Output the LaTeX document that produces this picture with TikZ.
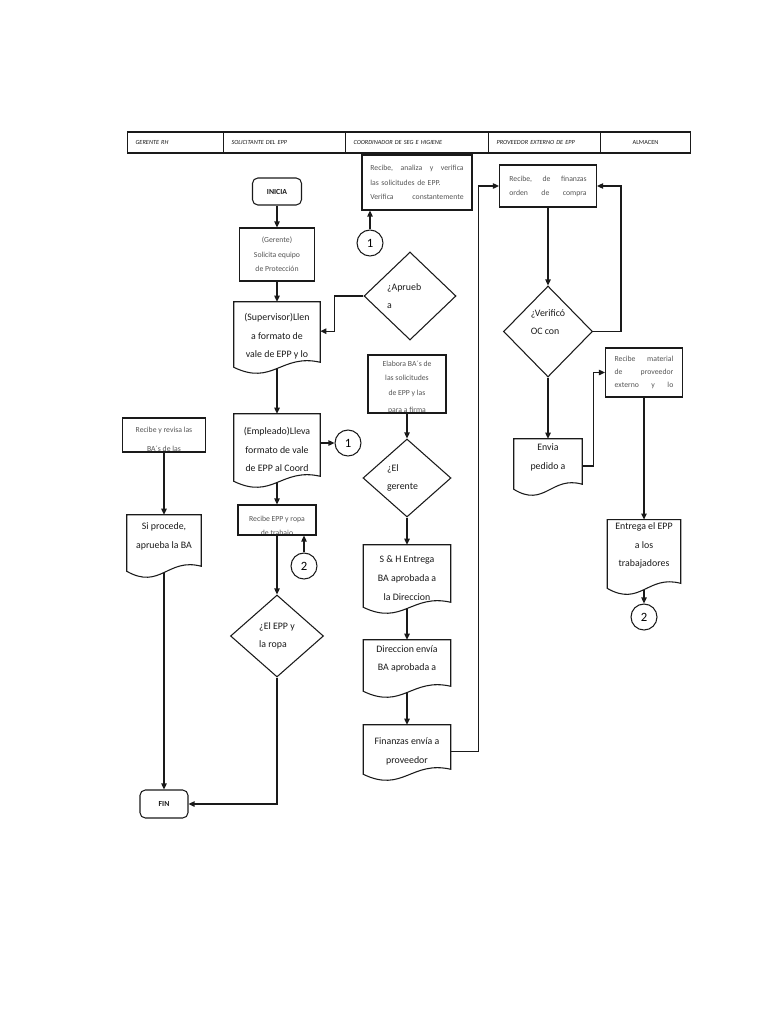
\documentclass[tikz,border=0pt]{standalone}
\usepackage{fontspec}
\setmainfont{Carlito}
\usetikzlibrary{arrows.meta,positioning,calc,shapes.geometric}
\definecolor{fcline}{HTML}{1A1A1A}
\definecolor{fcgrey}{HTML}{555555}
\tikzset{
  hdr/.style     = {rectangle, draw=fcline, line width=0.8pt, minimum height=15.75pt,
                    inner xsep=6pt, anchor=west, align=left, text=fcline,
                    font=\fontsize{4.7}{6}\selectfont\itshape},
  box/.style     = {rectangle, draw=fcline, line width=0.8pt, fill=white, align=center,
                    text=fcgrey, font=\fontsize{5.8}{11}\selectfont, inner sep=2pt},
  cliptxt/.style = {anchor=north, inner sep=0pt, align=center, text=fcgrey,
                    font=\fontsize{5.8}{11}\selectfont},
  docnode/.style = {rectangle, align=center, inner sep=2pt, text=fcline,
                    font=\fontsize{7.4}{14}\selectfont},
  term/.style    = {rectangle, rounded corners=4pt, draw=fcline, line width=0.8pt,
                    text=fcline, font=\fontsize{5.8}{7}\selectfont\bfseries},
  dec/.style     = {diamond, draw=fcline, line width=0.8pt, inner sep=0pt, align=left,
                    text=fcline, font=\fontsize{7.4}{14}\selectfont},
  conn/.style    = {circle, draw=fcline, line width=0.8pt, minimum size=19.5pt,
                    inner sep=0pt, font=\fontsize{9.5}{10}\selectfont},
  ed/.style      = {-{Triangle[length=4.5pt,width=4pt]}, draw=fcline, line width=1pt},
  fromdoc/.style = {shorten <=-2pt},
}
\newcommand{\docwave}[1]{%
  \draw[draw=fcline, line width=0.8pt] ($(#1.south west)+(0,-4)$) -- (#1.north west)
    -- (#1.north east) -- ($(#1.south east)+(0,-9)$)
    .. controls ($(#1.south west)!0.55!(#1.south east)+(0,-18)$)
    and ($(#1.south west)!0.45!(#1.south east)+(0,15)$) .. ($(#1.south west)+(0,-4)$) -- cycle;}

\begin{document}
\begin{tikzpicture}[x=0.75pt,y=-0.75pt]
  \useasboundingbox (0,0) rectangle (768,1024);
  \node[hdr, text width=60pt] (hgerente) at (127,142.5) {GERENTE RH};
  \node[hdr, text width=79.5pt] (hsolicit) at (223,142.5) {SOLICITANTE DEL EPP};
  \node[hdr, text width=95.25pt] (hcoord) at (345,142.5) {COORDINADOR DE SEG E HIGIENE};
  \node[hdr, text width=72pt] (hprov) at (488,142.5) {PROVEEDOR EXTERNO DE EPP};
  \node[hdr, text width=55.5pt, align=center, font=\fontsize{4.7}{6}\selectfont] (halmacen) at (600,142.5) {ALMACEN};

  \node[term, minimum width=36.75pt, minimum height=20.25pt] (inicia) at (277,191.5) {INICIA};
  \node[box, minimum width=56.25pt, minimum height=39.75pt] (gerente) at (277,254.5) {(Gerente)\\Solicita equipo\\de Protección};
  \node[docnode, minimum width=64.5pt, minimum height=51.75pt] (supervisor) at (277,336.5) {(Supervisor)Llen\\a formato de\\vale de EPP y lo};
  \node[docnode, minimum width=64.5pt, minimum height=53.25pt] (empleado) at (277,449.5) {(Empleado)Lleva\\formato de vale\\de EPP al Coord};
  \node[box, minimum width=58.5pt, minimum height=22.5pt,
        path picture={\node[cliptxt] at ($(path picture bounding box.north)+(0,6)$) {Recibe EPP y ropa\\de trabajo};}] (recibeepp) at (277,520) {};
  \node[dec, minimum width=69.75pt, minimum height=61.5pt] (eppdiamond) at (277,636) {¿El EPP y\\la ropa};
  \node[conn] (circ1b) at (348,443) {1};
  \node[conn] (circ2a) at (304,566) {2};

  \node[box, minimum width=62.25pt, minimum height=25.5pt,
        path picture={\node[cliptxt] at ($(path picture bounding box.north)+(0,4)$) {Recibe y revisa las\\[3pt]BA´s de las};}] (recibeyrevisa) at (164,435) {};
  \node[docnode, minimum width=55.5pt, minimum height=45pt] (siprocede) at (164,545) {Si procede,\\aprueba la BA\\\phantom{x}};
  \node[term, minimum width=36pt, minimum height=21pt] (fin) at (164,804) {FIN};

  \node[box, minimum width=82.5pt, minimum height=41.25pt, text width=70pt, align=left] (recibeanaliza) at (417,182.5)
    {Recibe,\hfill analiza\hfill y\hfill verifica\\las solicitudes de EPP.\\Verifica\hfill constantemente};
  \node[conn] (circ1a) at (370,243) {1};
  \node[dec, minimum width=69pt, minimum height=66pt, text width=34.5pt] (aprueba) at (410,296) {¿Aprueb\\a};
  \node[box, minimum width=58.5pt, minimum height=43.5pt,
        path picture={\node[cliptxt] at ($(path picture bounding box.north)+(0,3)$) {Elabora BA´s de\\las solicitudes\\de EPP y las\\[2pt]para a firma};}] (elabora) at (407,384) {};
  \node[dec, minimum width=66pt, minimum height=58.5pt, text width=30pt] (gerentediamond) at (407,478) {¿El\\gerente};
  \node[docnode, minimum width=65.25pt, minimum height=49.5pt] (shentrega) at (407,578) {S \& H Entrega\\BA aprobada a\\la Direccion};
  \node[docnode, minimum width=65.25pt, minimum height=41.25pt] (direccion) at (407,667.5) {Direccion envía\\BA aprobada a\\\phantom{x}};
  \node[docnode, minimum width=65.25pt, minimum height=39.75pt] (finanzas) at (407,751.5) {Finanzas envía a\\proveedor};

  \node[box, minimum width=72.75pt, minimum height=31.5pt, text width=58pt, align=left,
        font=\fontsize{5.8}{10.5}\selectfont] (recibefin) at (548,186)
    {Recibe,\hfill de\hfill finanzas\\orden\hfill de\hfill compra};
  \node[dec, minimum width=66.75pt, minimum height=68.25pt] (verifico) at (548,331.5) {¿Verificó\\OC con\\\phantom{x}};
  \node[docnode, minimum width=51pt, minimum height=40.5pt] (enviapedido) at (548,466) {Envia\\pedido a\\\phantom{x}};

  \node[box, minimum width=57.75pt, minimum height=36.75pt, text width=44pt, align=left,
        font=\fontsize{5.8}{10}\selectfont] (recibemat) at (644,372.5)
    {Recibe\hfill material\\de\hfill proveedor\\externo\hfill y\hfill lo};
  \node[docnode, minimum width=54.75pt, minimum height=49.5pt] (entrega) at (644,556) {Entrega el EPP\\a los\\trabajadores\\[3pt]};
  \node[conn] (circ2b) at (644,617) {2};

  \docwave{supervisor}
  \docwave{empleado}
  \docwave{siprocede}
  \docwave{shentrega}
  \docwave{direccion}
  \docwave{finanzas}
  \docwave{enviapedido}
  \docwave{entrega}

  \draw[ed] (inicia) -- (gerente);
  \draw[ed] (gerente) -- (supervisor);
  \draw[ed, fromdoc] (supervisor) -- (empleado);
  \draw[ed, fromdoc] (empleado) -- (recibeepp);
  \draw[ed] (recibeepp) -- (eppdiamond);
  \draw[ed] (eppdiamond.south) |- (fin.east);
  \draw[ed] (empleado.east |- circ1b) -- (circ1b);
  \draw[ed] (circ2a) -- (circ2a |- recibeepp.south);
  \draw[ed] (circ1a) -- (circ1a |- recibeanaliza.south);
  \draw[ed] (aprueba.west) -- ++(-29,0) |- ([yshift=4pt]supervisor.east);
  \draw[ed] (recibeyrevisa) -- (siprocede);
  \draw[ed, fromdoc] (siprocede) -- (fin);
  \draw[ed] (elabora) -- (gerentediamond);
  \draw[ed] (gerentediamond) -- (shentrega);
  \draw[ed, fromdoc] (shentrega) -- (direccion);
  \draw[ed, fromdoc] (direccion) -- (finanzas);
  \draw[ed] (finanzas.east) -- ++(28,0) |- (recibefin.west);
  \draw[ed] (recibefin) -- (verifico);
  \draw[ed] (verifico.east) -- ++(28,0) |- (recibefin.east);
  \draw[ed] (verifico) -- (enviapedido);
  \draw[ed] (enviapedido.east) -- ++(11,0) |- (recibemat.west);
  \draw[ed] (recibemat) -- (entrega);
  \draw[ed, fromdoc] (entrega) -- (circ2b);
\end{tikzpicture}
\end{document}
